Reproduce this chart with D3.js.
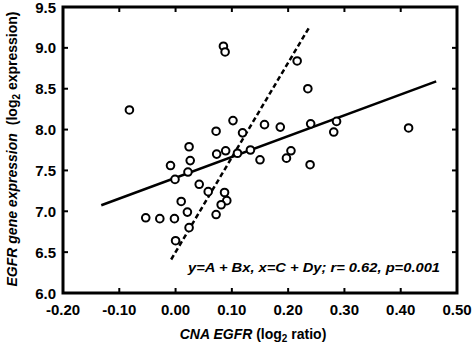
<!DOCTYPE html>
<html><head><meta charset="utf-8">
<script src="https://cdn.jsdelivr.net/npm/d3@7"></script>
<style>body{margin:0;background:#fff}svg{display:block}</style>
</head><body>
<svg id="c" width="474" height="346"></svg>
<script>
const xTicks = [-0.20,-0.10,0.00,0.10,0.20,0.30,0.40,0.50];
const yTicks = [6.0,6.5,7.0,7.5,8.0,8.5,9.0,9.5];
const cnaX = [-0.082,0.085,0.088,0.102,0.072,0.119,0.158,0.024,0.073,0.089,0.110,0.133,0.026,0.150,
  0.216,0.235,0.186,0.240,0.286,0.281,0.414,0.205,0.197,0.239,
  -0.009,0.022,-0.001,0.042,0.058,0.087,0.010,0.091,0.081,0.021,0.072,-0.053,-0.028,-0.002,0.024,0.000];
const exprY = [8.24,9.02,8.95,8.11,7.98,7.96,8.06,7.79,7.70,7.74,7.71,7.75,7.62,7.63,
  8.84,8.50,8.03,8.07,8.10,7.97,8.02,7.74,7.65,7.57,
  7.56,7.48,7.39,7.33,7.24,7.23,7.12,7.13,7.08,6.99,6.96,6.92,6.91,6.91,6.80,6.64];
// y = A + Bx  (solid), x = C + Dy (dashed)
const fitAB = [7.41, 2.55];
const fitXRange = [-0.132, 0.463];
const fitCD = [-0.561, 0.0863];
const fitYRange = [6.41, 9.25];

const svg = d3.select("#c");
const L=63, R=457, T=7, B=293;
const x = d3.scaleLinear().domain([-0.2,0.5]).range([L,R]);
const y = d3.scaleLinear().domain([6.0,9.5]).range([B,T]);
const font = "Arial, 'Liberation Sans', sans-serif";

// ticks inward
const tk = 5;
const g = svg.append("g").attr("stroke","#000").attr("stroke-width",2);
xTicks.slice(1,-1).forEach(v=>{
  g.append("line").attr("x1",x(v)).attr("x2",x(v)).attr("y1",B).attr("y2",B-tk);
  g.append("line").attr("x1",x(v)).attr("x2",x(v)).attr("y1",T).attr("y2",T+tk);
});
yTicks.slice(1,-1).forEach(v=>{
  g.append("line").attr("x1",L).attr("x2",L+tk).attr("y1",y(v)).attr("y2",y(v));
  g.append("line").attr("x1",R).attr("x2",R-tk).attr("y1",y(v)).attr("y2",y(v));
});
svg.append("rect").attr("x",L).attr("y",T).attr("width",R-L).attr("height",B-T)
  .attr("fill","none").attr("stroke","#000").attr("stroke-width",3);

// tick labels
svg.append("g").selectAll("text").data(xTicks).join("text")
  .attr("x",d=>x(d)).attr("y",315).attr("text-anchor","middle")
  .attr("font-family",font).attr("font-weight","bold").attr("font-size",15)
  .text(d=>d3.format(".2f")(d).replace("−","-"));
svg.append("g").selectAll("text").data(yTicks).join("text")
  .attr("x",56).attr("y",d=>y(d)+5.5).attr("text-anchor","end")
  .attr("font-family",font).attr("font-weight","bold").attr("font-size",15)
  .text(d=>d3.format(".1f")(d));

// fit lines
const [A,Bs]=fitAB;
svg.append("line").attr("x1",x(fitXRange[0])).attr("y1",y(A+Bs*fitXRange[0]))
  .attr("x2",x(fitXRange[1])).attr("y2",y(A+Bs*fitXRange[1]))
  .attr("stroke","#000").attr("stroke-width",2.5);
const [C,D]=fitCD;
svg.append("line").attr("x1",x(C+D*fitYRange[0])).attr("y1",y(fitYRange[0]))
  .attr("x2",x(C+D*fitYRange[1])).attr("y2",y(fitYRange[1]))
  .attr("stroke","#000").attr("stroke-width",2.5).attr("stroke-dasharray","5,3");

// points
svg.append("g").selectAll("circle").data(cnaX).join("circle")
  .attr("cx",d=>x(d)).attr("cy",(d,i)=>y(exprY[i])).attr("r",3.8)
  .attr("fill","#fff").attr("stroke","#000").attr("stroke-width",2);

// annotation
svg.append("text").attr("x",188).attr("y",272)
  .attr("font-family",font).attr("font-weight","bold").attr("font-style","italic").attr("font-size",13)
  .attr("textLength",252).attr("lengthAdjust","spacingAndGlyphs")
  .text("y=A + Bx, x=C + Dy; r= 0.62, p=0.001");

// x title
const xt = svg.append("text").attr("x",253).attr("y",339).attr("text-anchor","middle")
  .attr("font-family",font).attr("font-size",14).attr("font-weight","bold");
xt.append("tspan").attr("font-style","italic").text("CNA EGFR ");
xt.append("tspan").text("(log");
xt.append("tspan").attr("font-size",10).attr("dy",3).text("2");
xt.append("tspan").attr("dy",-3).text(" ratio)");

// y title
const yt = svg.append("text").attr("transform","translate(17,149) rotate(-90)").attr("text-anchor","middle")
  .attr("font-family",font).attr("font-size",14).attr("font-weight","bold");
yt.append("tspan").attr("font-style","italic").text("EGFR gene expression");
yt.append("tspan").attr("dx",8).text("(log");
yt.append("tspan").attr("font-size",10).attr("dy",3).text("2");
yt.append("tspan").attr("dy",-3).text(" expression)");
</script>
</body></html>
